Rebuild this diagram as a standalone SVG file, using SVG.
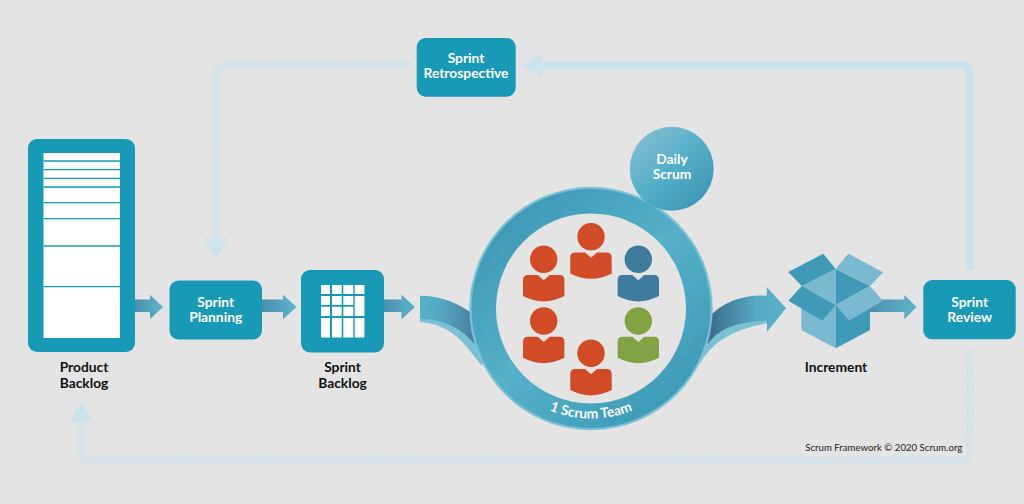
<svg xmlns="http://www.w3.org/2000/svg" width="1024" height="504" viewBox="0 0 1024 504">
<defs>
<style>
.t{font-family:"Lato","Liberation Sans",sans-serif;font-weight:700;font-size:13.800px;text-anchor:middle}
.w{fill:#fff}.k{fill:#111}
.box{fill:#1899b6}
.fb{fill:none;stroke:#cbe3ec;stroke-width:8}
.fd{fill:none;stroke:#cbe3ec;stroke-width:8;stroke-dasharray:1.100 .8}
.fh{fill:#cbe3ec}
.or{fill:#d14b27}.bl{fill:#3e7b9c}.gr{fill:#82a343}
.lt{fill:#7ab9cf}.dk{fill:#3f9ab7}
</style>
<linearGradient id="sh" x1="0" x2="1" y1="0" y2="0"><stop offset="0" stop-color="#4a8fae"/><stop offset="1" stop-color="#5fb4cc"/></linearGradient>
<linearGradient id="ring" x1="0.15" y1="0.1" x2="0.85" y2="0.9"><stop offset="0" stop-color="#3d9ab7"/><stop offset=".5" stop-color="#56b0c9"/><stop offset="1" stop-color="#3d9ab7"/></linearGradient>
<linearGradient id="ds" x1="0.15" y1="0.1" x2="0.85" y2="0.9"><stop offset="0" stop-color="#80bdd1"/><stop offset=".5" stop-color="#54aec8"/><stop offset="1" stop-color="#3e98b5"/></linearGradient>
<linearGradient id="cl" gradientUnits="userSpaceOnUse" x1="420" y1="0" x2="474" y2="0"><stop offset="0" stop-color="#55b0ca"/><stop offset=".35" stop-color="#55aac5"/><stop offset="1" stop-color="#4a7f9f"/></linearGradient>
<linearGradient id="cr" gradientUnits="userSpaceOnUse" x1="712" y1="0" x2="784" y2="0"><stop offset="0" stop-color="#3f6f8f"/><stop offset=".6" stop-color="#55a8c4"/><stop offset="1" stop-color="#5ab1ca"/></linearGradient>
<path id="body" d="M-15.700 15.700H-6L0 21L6 15.700H15.700Q20.700 15.700 20.700 20.700V36.800Q0 47.500 -20.700 36.800V20.700Q-20.700 15.700 -15.700 15.700Z"/>
<path id="arcT" d="M481 308.500A110 110 0 0 0 701 308.500"/>
</defs>
<rect width="1024" height="504" fill="#e4e4e4"/>
<g id="connectors">
<path class="fb" d="M970 270V75Q970 64.700 960 64.700H541"/>
<polygon class="fh" points="521,65 542,53.300 542,76.700"/>
<path class="fd" d="M410 64.700H227Q216 64.700 216 76V239"/>
<polygon class="fh" points="204,239 227.500,239 215.700,259"/>
<path class="fd" d="M970 351V450Q970 460.700 960 460.700H92Q81.300 460.700 81.300 450V422"/>
<polygon class="fh" points="69.300,422.300 92.700,422.300 81,402"/>
<path fill="url(#sh)" d="M135 299.500H150V294.700L163 307L150 319.300V312H135Z"/>
<path fill="url(#sh)" d="M262 299.500H283V294.700L296.500 307L283 319.300V312H262Z"/>
<path fill="url(#sh)" d="M384 299.500H401.500V294.700L415 307L401.500 319.300V312H384Z"/>
<path fill="url(#sh)" d="M868 299.500H904.300V295L916.700 307L904.300 319.300V312H868Z"/>
<path fill="#7cc0d4" d="M420 319V322Q448 324 466 346L482 366L490 340L473 330Q448 318 420 319Z"/>
<path fill="url(#cl)" d="M420 295.700Q450 296 474 315L476 346Q455 319 420 319Z"/>
<path fill="#7cc0d4" d="M700 364Q716 332 768 323L768 319Q718 322 704 342Z"/>
<path fill="url(#cr)" d="M708 344Q722 322 767 320.700V331.700L786 308.300L766.700 287V295.700Q730 294 708 318Z"/>
</g>
<g id="product-backlog">
<rect class="box" x="28" y="139" width="107" height="213" rx="9"/>
<rect x="43.500" y="153" width="76.500" height="185" fill="#fff"/>
<path stroke="#1899b6" stroke-width="1.300" fill="none" d="M43.500 161H120M43.500 169.700H120M43.500 178.300H120M43.500 187H120M43.500 202.700H120M43.500 218.700H120M43.500 246H120M43.500 286.700H120"/>
<text class="t k" x="84" y="372">Product</text><text class="t k" x="84" y="388">Backlog</text>
</g>
<g id="sprint-planning">
<rect class="box" x="169.500" y="280.500" width="92.500" height="59" rx="9"/>
<text class="t w" x="215.700" y="307">Sprint</text><text class="t w" x="215.700" y="322">Planning</text>
</g>
<g id="sprint-backlog">
<rect class="box" x="301" y="270" width="83" height="82.500" rx="9"/>
<g fill="#fff">
<rect x="321" y="285" width="9" height="9"/><rect x="332" y="285" width="9.700" height="9"/><rect x="343.300" y="285" width="10" height="9"/><rect x="354.700" y="285" width="9.700" height="9"/>
<rect x="321" y="296" width="9" height="9"/><rect x="332" y="296" width="9.700" height="9"/><rect x="343.300" y="296" width="10" height="9"/><rect x="354.700" y="296" width="9.700" height="20"/>
<rect x="321" y="306.700" width="9" height="9.300"/><rect x="332" y="306.700" width="9.700" height="9.300"/><rect x="343.300" y="306.700" width="10" height="9.300"/>
<rect x="321" y="318" width="9" height="19.500"/><rect x="332" y="318" width="9.700" height="19.500"/><rect x="343.300" y="318" width="10" height="19.500"/><rect x="354.700" y="318" width="9.700" height="19.500"/>
</g>
<text class="t k" x="342.500" y="372">Sprint</text><text class="t k" x="342.500" y="388">Backlog</text>
</g>
<g id="scrum-team">
<circle cx="591" cy="308.500" r="121.700" fill="#7cc0d4"/>
<circle cx="591" cy="308.500" r="119.500" fill="url(#ring)"/>
<circle cx="591" cy="308.500" r="95" fill="#e4e4e4"/>
<text class="t w"><textPath href="#arcT" startOffset="50%">1 Scrum Team</textPath></text>
<g class="or" transform="translate(591 236.700)"><circle r="13.700"/><use href="#body"/></g>
<g class="or" transform="translate(543.700 259.300)"><circle r="13.700"/><use href="#body"/></g>
<g class="bl" transform="translate(638.300 259.300)"><circle r="13.700"/><use href="#body"/></g>
<g class="or" transform="translate(543.700 321)"><circle r="13.700"/><use href="#body"/></g>
<g class="gr" transform="translate(638.300 321)"><circle r="13.700"/><use href="#body"/></g>
<g class="or" transform="translate(591 353.300)"><circle r="13.700"/><use href="#body"/></g>
</g>
<g id="daily-scrum">
<circle cx="671.700" cy="168.700" r="42" fill="url(#ds)"/>
<text class="t w" x="672" y="164">Daily</text><text class="t w" x="672" y="179">Scrum</text>
</g>
<g id="increment">
<polygon class="lt" points="801.300,286 835.700,269 835.700,305"/>
<polygon class="dk" points="835.700,269 870,286 835.700,305"/>
<polygon class="dk" points="788.300,272 823.300,253.700 835.700,269 801.700,286"/>
<polygon class="lt" points="835.700,269 848.300,253.700 883,272.300 870,286"/>
<polygon class="lt" points="801.300,300 835.700,305 835.700,348.300 801.300,330"/>
<polygon class="dk" points="870,300 835.700,305 835.700,348.300 870,330"/>
<polygon class="dk" points="788.300,300.700 801.700,286 835.700,305 822.300,320.700"/>
<polygon class="lt" points="835.700,305 870,286 883,300.700 849,320.700"/>
<text class="t k" x="836" y="371.700">Increment</text>
</g>
<g id="sprint-review">
<rect class="box" x="923.300" y="280" width="92.400" height="59.300" rx="9"/>
<text class="t w" x="969.700" y="307">Sprint</text><text class="t w" x="969.700" y="322">Review</text>
</g>
<g id="sprint-retrospective">
<rect class="box" x="416.700" y="38" width="99" height="58.700" rx="9"/>
<text class="t w" x="466" y="62.700">Sprint</text><text class="t w" x="466" y="78">Retrospective</text>
</g>
<text x="805.300" y="450.700" font-family="Lato,'Liberation Sans',sans-serif" font-size="9.650" fill="#222">Scrum Framework © 2020 Scrum.org</text>
</svg>
